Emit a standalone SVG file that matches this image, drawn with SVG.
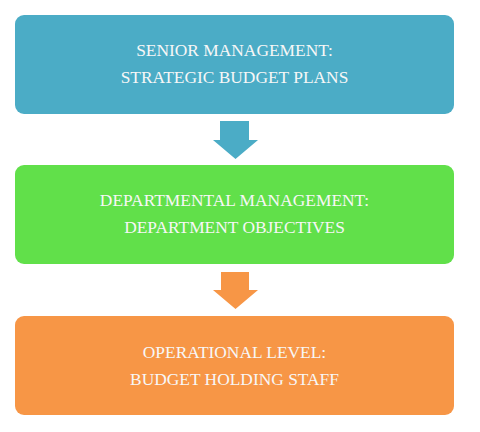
<svg xmlns="http://www.w3.org/2000/svg" width="480" height="432" viewBox="0 0 480 432">
<style>
.box{stroke:none}
.t{font-family:"Liberation Serif","Times New Roman",serif;font-size:17.4px;fill:#f7f7f7;text-anchor:middle}
</style>
<rect width="480" height="432" fill="#ffffff"/>
<g id="connectors">
<path d="M220,121 H249 V140 H258 L235.5,159 L213,140 H220 Z" fill="#4bacc6"/>
<path d="M221,272 H249 V290 H258 L235.5,309 L213,290 H221 Z" fill="#f79646"/>
</g>
<g id="senior">
<rect class="box" x="15" y="15" width="439" height="99" rx="9" fill="#4bacc6"/>
<text class="t" x="234.5" y="56">SENIOR MANAGEMENT:</text>
<text class="t" x="234.5" y="83">STRATEGIC BUDGET PLANS</text>
</g>
<g id="departmental">
<rect class="box" x="15" y="165" width="439" height="99" rx="9" fill="#61e04a"/>
<text class="t" x="234.5" y="206">DEPARTMENTAL MANAGEMENT:</text>
<text class="t" x="234.5" y="233">DEPARTMENT OBJECTIVES</text>
</g>
<g id="operational">
<rect class="box" x="15" y="316" width="439" height="99" rx="9" fill="#f79646"/>
<text class="t" x="234.5" y="358">OPERATIONAL LEVEL:</text>
<text class="t" x="234.5" y="385">BUDGET HOLDING STAFF</text>
</g>
</svg>
